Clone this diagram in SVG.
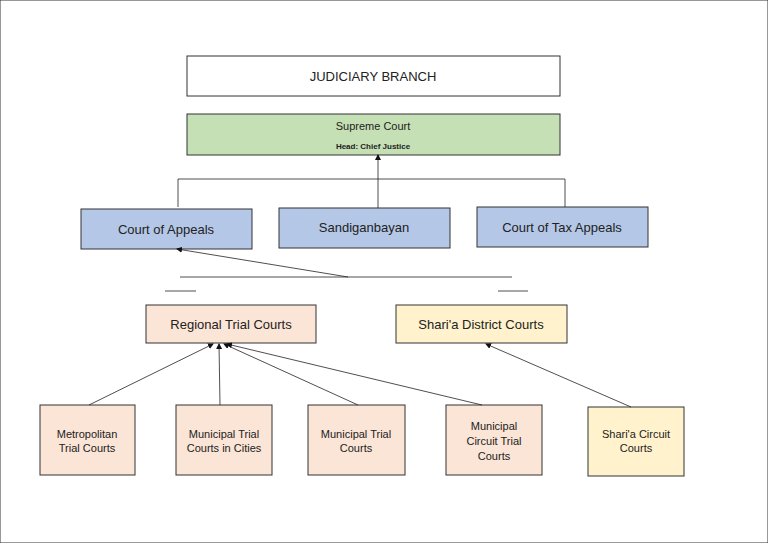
<svg xmlns="http://www.w3.org/2000/svg" width="768" height="543" viewBox="0 0 768 543">
<style>
rect{stroke:#333;stroke-width:1}
text{font-family:"Liberation Sans",Arial,sans-serif;fill:#222;text-anchor:middle}
.l{stroke:#222;stroke-width:0.8;fill:none}
.a{marker-end:url(#ah)}
.t{font-size:13px}
.s{font-size:11px}
</style>
<defs><marker id="ah" markerWidth="6" markerHeight="6" refX="5" refY="3" orient="auto" markerUnits="userSpaceOnUse"><path d="M0,0L6,3L0,6z" fill="#111"/></marker></defs>
<rect width="768" height="543" fill="#fff" stroke="none"/>
<g id="judiciary"><rect x="187" y="56" width="373" height="40" fill="#fff"/><text x="373" y="81" class="t" font-size="14">JUDICIARY BRANCH</text></g>
<g id="supreme"><rect x="187" y="114" width="373" height="41" fill="#c5e0b4"/><text x="373" y="130" class="s" font-size="12">Supreme Court</text><text x="373" y="149" font-size="8" font-weight="bold">Head: Chief Justice</text></g>
<g id="ca"><rect x="81" y="209" width="171" height="40" fill="#b4c7e7"/><text x="166" y="234" class="t">Court of Appeals</text></g>
<g id="sb"><rect x="279" y="208" width="171" height="40" fill="#b4c7e7"/><text x="364" y="232" class="t">Sandiganbayan</text></g>
<g id="cta"><rect x="477" y="207" width="171" height="40" fill="#b4c7e7"/><text x="562" y="232" class="t">Court of Tax Appeals</text></g>
<g id="rtc"><rect x="146" y="305" width="170" height="38" fill="#fbe5d6"/><text x="231" y="329" class="t">Regional Trial Courts</text></g>
<g id="sdc"><rect x="396" y="305" width="171" height="38" fill="#fff2cc"/><text x="481" y="329" class="t">Shari'a District Courts</text></g>
<g id="metc"><rect x="40" y="405" width="95" height="70" fill="#fbe5d6"/><text x="87" y="438" class="s">Metropolitan</text><text x="87" y="452" class="s">Trial Courts</text></g>
<g id="mtcc"><rect x="176" y="405" width="96" height="70" fill="#fbe5d6"/><text x="224" y="438" class="s">Municipal Trial</text><text x="224" y="452" class="s">Courts in Cities</text></g>
<g id="mtc"><rect x="308" y="405" width="97" height="70" fill="#fbe5d6"/><text x="356" y="438" class="s">Municipal Trial</text><text x="356" y="452" class="s">Courts</text></g>
<g id="mctc"><rect x="446" y="405" width="96" height="70" fill="#fbe5d6"/><text x="494" y="430" class="s">Municipal</text><text x="494" y="445" class="s">Circuit Trial</text><text x="494" y="460" class="s">Courts</text></g>
<g id="scc"><rect x="588" y="407" width="96" height="69" fill="#fff2cc"/><text x="636" y="438" class="s">Shari'a Circuit</text><text x="636" y="452" class="s">Courts</text></g>
<g id="connectors">
<path class="l a" d="M378,208V155"/>
<path class="l" d="M178,207V179H565V207"/>
<path class="l" d="M180,277H512M165,291H196M498,291H528"/>
<path class="l a" d="M348,277L177,249"/>
<path class="l a" d="M89,405L213,344"/>
<path class="l a" d="M220,405L219,344"/>
<path class="l a" d="M358,405L224,344"/>
<path class="l a" d="M482,405L227,344"/>
<path class="l a" d="M631,407L486,344"/>
</g>
</svg>
